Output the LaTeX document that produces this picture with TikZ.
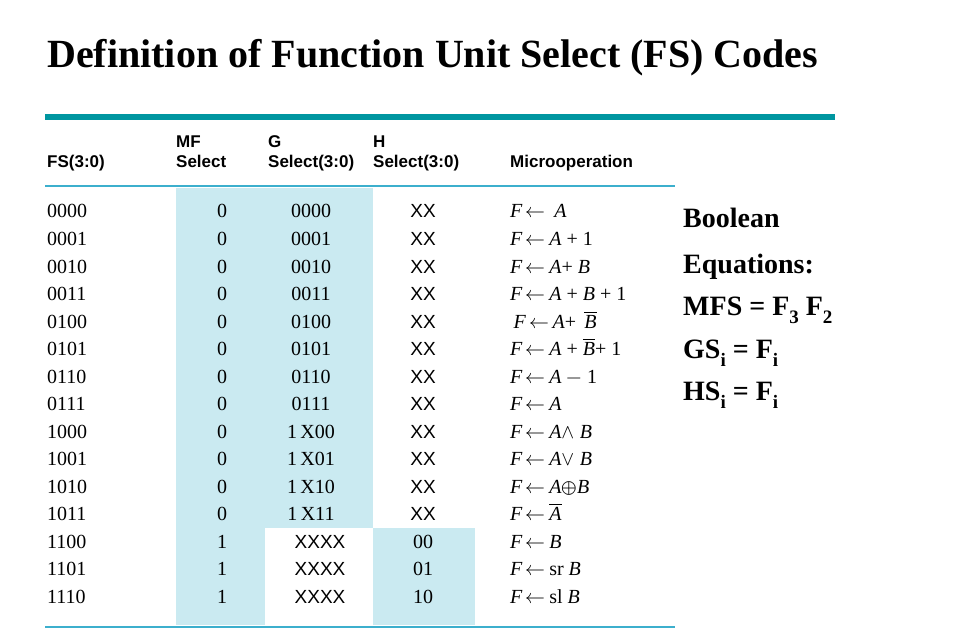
\documentclass[tikz,border=0pt]{standalone}
\usepackage{fontspec}
\setmainfont{Liberation Serif}
\newfontfamily\hdr{Liberation Sans}
\usepackage{unicode-math}
\setmathfont{Latin Modern Math}
\begin{document}
\begin{tikzpicture}[x=1pt,y=-1pt,
  hd/.style={font=\hdr\bfseries\fontsize{17}{19}\selectfont,anchor=base west,inner sep=0},
  cell/.style={font=\fontsize{20}{22}\selectfont,anchor=base,inner sep=0},
  xx/.style={font=\hdr\fontsize{19}{21}\selectfont,anchor=base,inner sep=0},
  mo/.style={font=\fontsize{20}{22}\selectfont,anchor=base west,inner sep=0},
  eq/.style={font=\bfseries\fontsize{28}{30}\selectfont,anchor=base west,inner sep=0}]
\definecolor{teal1}{RGB}{0,150,160}
\definecolor{lblue}{RGB}{60,175,205}
\definecolor{cellbg}{RGB}{202,234,241}
\newcommand{\I}[1]{\textit{#1}}
\newcommand{\la}{\,$\leftarrow$\,}
\newcommand{\ob}[1]{$\overline{\text{\textit{#1}}}$}
\newcommand{\sbx}[1]{\raisebox{-0.3em}{\fontsize{19}{20}\selectfont #1}}
\useasboundingbox (0,0) rectangle (965,628);
\node[anchor=base west,inner sep=0,font=\bfseries\fontsize{40}{43}\selectfont] (title) at (47,68) {Definition of Function Unit Select (FS) Codes};
\fill[cellbg] (176,188) rectangle (373,528);
\fill[cellbg] (176,528) rectangle (265,625);
\fill[cellbg] (373,528) rectangle (475,625);
\draw[teal1,line width=6] (45,117) -- (835,117);
\draw[lblue,line width=2.5] (45,186) -- (675,186);
\draw[lblue,line width=2.5] (45,627) -- (675,627);
\node[hd] (h1) at (47,168) {FS(3:0)};
\node[hd] (h2a) at (176,148) {MF};
\node[hd] (h2b) at (176,168) {Select};
\node[hd] (h3a) at (268,148) {G};
\node[hd] (h3b) at (268,168) {Select(3:0)};
\node[hd] (h4a) at (373,148) {H};
\node[hd] (h4b) at (373,168) {Select(3:0)};
\node[hd] (h5) at (510,168) {Microoperation};
\foreach \i/\fs/\mf/\g/\h/\op in {
 0/0000/0/0000/XX/{\I{F}\la\ \I{A}},
 1/0001/0/0001/XX/{\I{F}\la\I{A} + 1},
 2/0010/0/0010/XX/{\I{F}\la\I{A}+ \I{B}},
 3/0011/0/0011/XX/{\I{F}\la\I{A} + \I{B} + 1},
 4/0100/0/0100/XX/{\,\I{F}\la\I{A}+ \,\ob{B}},
 5/0101/0/0101/XX/{\I{F}\la\I{A} + \ob{B}+ 1},
 6/0110/0/0110/XX/{\I{F}\la\I{A} $-$ 1},
 7/0111/0/0111/XX/{\I{F}\la\I{A}},
 8/1000/0/{1\,X00}/XX/{\I{F}\la\I{A}$\wedge$ \I{B}},
 9/1001/0/{1\,X01}/XX/{\I{F}\la\I{A}$\vee$ \I{B}},
 10/1010/0/{1\,X10}/XX/{\I{F}\la\I{A}$\oplus$\I{B}},
 11/1011/0/{1\,X11}/XX/{\I{F}\la\ob{A}},
 12/1100/1/XXXX/00/{\I{F}\la\I{B}},
 13/1101/1/XXXX/01/{\I{F}\la sr \I{B}},
 14/1110/1/XXXX/10/{\I{F}\la sl \I{B}}}{
  \pgfmathsetmacro{\yy}{218+27.5*\i}
  \node[mo] (fs\i) at (47,\yy) {\fs};
  \node[cell] (mf\i) at (222,\yy) {\mf};
  \ifnum\i<12
    \node[cell] (g\i) at (311,\yy) {\g};
    \node[xx] (hh\i) at (423,\yy) {\h};
  \else
    \node[xx] (g\i) at (320,\yy) {\g};
    \node[cell] (hh\i) at (423,\yy) {\h};
  \fi
  \node[mo] (op\i) at (510,\yy) {\op};
}
\node[eq] (b1) at (683,228) {Boolean};
\node[eq] (b2) at (683,273) {Equations:};
\node[eq] (b3) at (683,315) {MFS = F\sbx{3} F\sbx{2}};
\node[eq] (b4) at (683,358) {GS\sbx{i} = F\sbx{i}};
\node[eq] (b5) at (683,400) {HS\sbx{i} = F\sbx{i}};
\end{tikzpicture}
\end{document}
